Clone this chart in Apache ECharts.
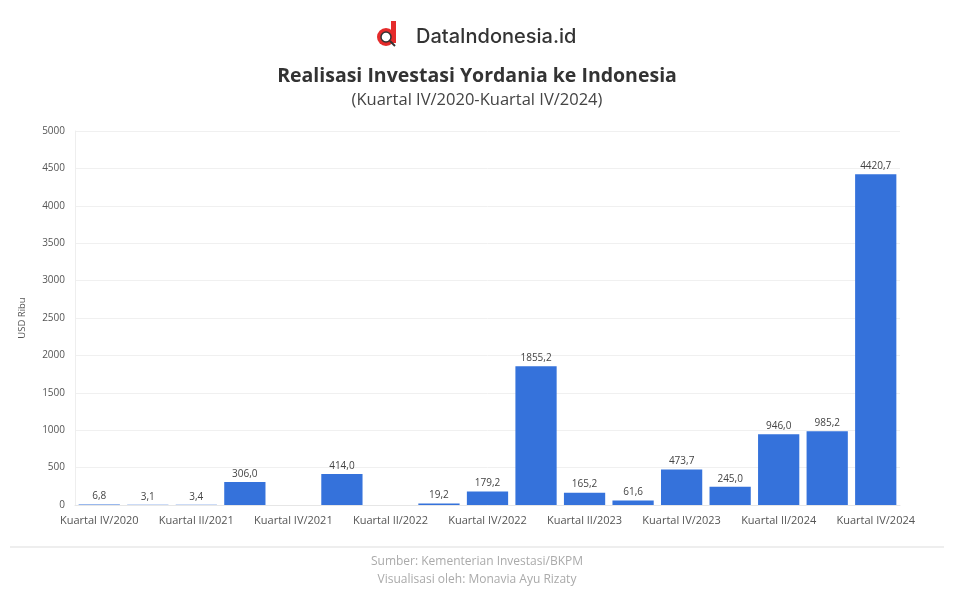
<!DOCTYPE html>
<html><head><meta charset="utf-8">
<script src="https://cdn.jsdelivr.net/npm/echarts@6/dist/echarts.min.js"></script>
<style>html,body{margin:0;padding:0;background:#fff}#c{width:954px;height:596px}</style>
</head><body><div id="c"></div>
<script>
const categories = ["Kuartal IV/2020","Kuartal I/2021","Kuartal II/2021","Kuartal III/2021","Kuartal IV/2021","Kuartal I/2022","Kuartal II/2022","Kuartal III/2022","Kuartal IV/2022","Kuartal I/2023","Kuartal II/2023","Kuartal III/2023","Kuartal IV/2023","Kuartal I/2024","Kuartal II/2024","Kuartal III/2024","Kuartal IV/2024"];
const values = [6.8, 3.1, 3.4, 306.0, null, 414.0, null, 19.2, 179.2, 1855.2, 165.2, 61.6, 473.7, 245.0, 946.0, 985.2, 4420.7];
const yTicks = [0,500,1000,1500,2000,2500,3000,3500,4000,4500,5000];
const FONT = "'Open Sans', 'Noto Sans', sans-serif";
const chart = echarts.init(document.getElementById('c'), null, {renderer:'canvas'});
chart.setOption({
  backgroundColor:'#fff',
  animation:false,
  textStyle:{fontFamily:FONT},
  title:[
    {text:'Realisasi Investasi Yordania ke Indonesia', left:'center', top:61,
     textStyle:{fontSize:19.5, fontWeight:'bold', color:'#333', fontFamily:FONT}},
    {text:'(Kuartal IV/2020-Kuartal IV/2024)', left:'center', top:87,
     textStyle:{fontSize:16.5, fontWeight:'normal', color:'#444', fontFamily:FONT}},
    {text:'DataIndonesia.id', left:411, top:22,
     textStyle:{fontSize:20, fontWeight:500, color:'#333', fontFamily:"Inter, 'Open Sans', sans-serif"}},
    {text:'Sumber: Kementerian Investasi/BKPM\nVisualisasi oleh: Monavia Ayu Rizaty', left:'center', top:548,
     textStyle:{fontSize:12, fontWeight:'normal', color:'#aaa', lineHeight:18, fontFamily:FONT}}
  ],
  graphic:[
    {type:'circle', shape:{cx:386, cy:37, r:9}, style:{fill:'#e52b2b'}},
    {type:'rect', shape:{x:391, y:21, width:5, height:22}, style:{fill:'#e52b2b'}},
    {type:'circle', shape:{cx:386, cy:37, r:5}, style:{fill:'#fff', stroke:'#333', lineWidth:1.5}},
    {type:'line', shape:{x1:390, y1:41, x2:395, y2:46}, style:{stroke:'#333', lineWidth:2}},
    {type:'line', shape:{x1:10, y1:547, x2:944, y2:547}, style:{stroke:'#eee', lineWidth:2}}
  ],
  grid:{left:75, right:54, top:131, bottom:91},
  xAxis:{type:'category', data:categories,
    axisLine:{show:true, lineStyle:{color:'#e6e6e6'}}, axisTick:{show:false},
    axisLabel:{interval:1, fontSize:11, color:'#555', margin:10}},
  yAxis:{type:'value', min:0, max:5000, interval:500,
    name:'USD Ribu', nameLocation:'middle', nameGap:48, nameRotate:90,
    nameTextStyle:{fontSize:9.5, color:'#555'},
    axisLine:{show:true, lineStyle:{color:'#eeeeee'}}, axisTick:{show:false},
    axisLabel:{fontSize:10, color:'#555', margin:10, formatter:v=>yTicks.includes(v)?String(v):''},
    splitLine:{lineStyle:{color:'#f0f0f0'}}},
  series:[{type:'bar', data:values, barWidth:'85%', itemStyle:{color:'#3572db'},
    label:{show:true, position:'top', fontSize:10, color:'#444', distance:3,
      formatter:p=>p.value==null?'':p.value.toFixed(1).replace('.',',')}}]
});
</script></body></html>
